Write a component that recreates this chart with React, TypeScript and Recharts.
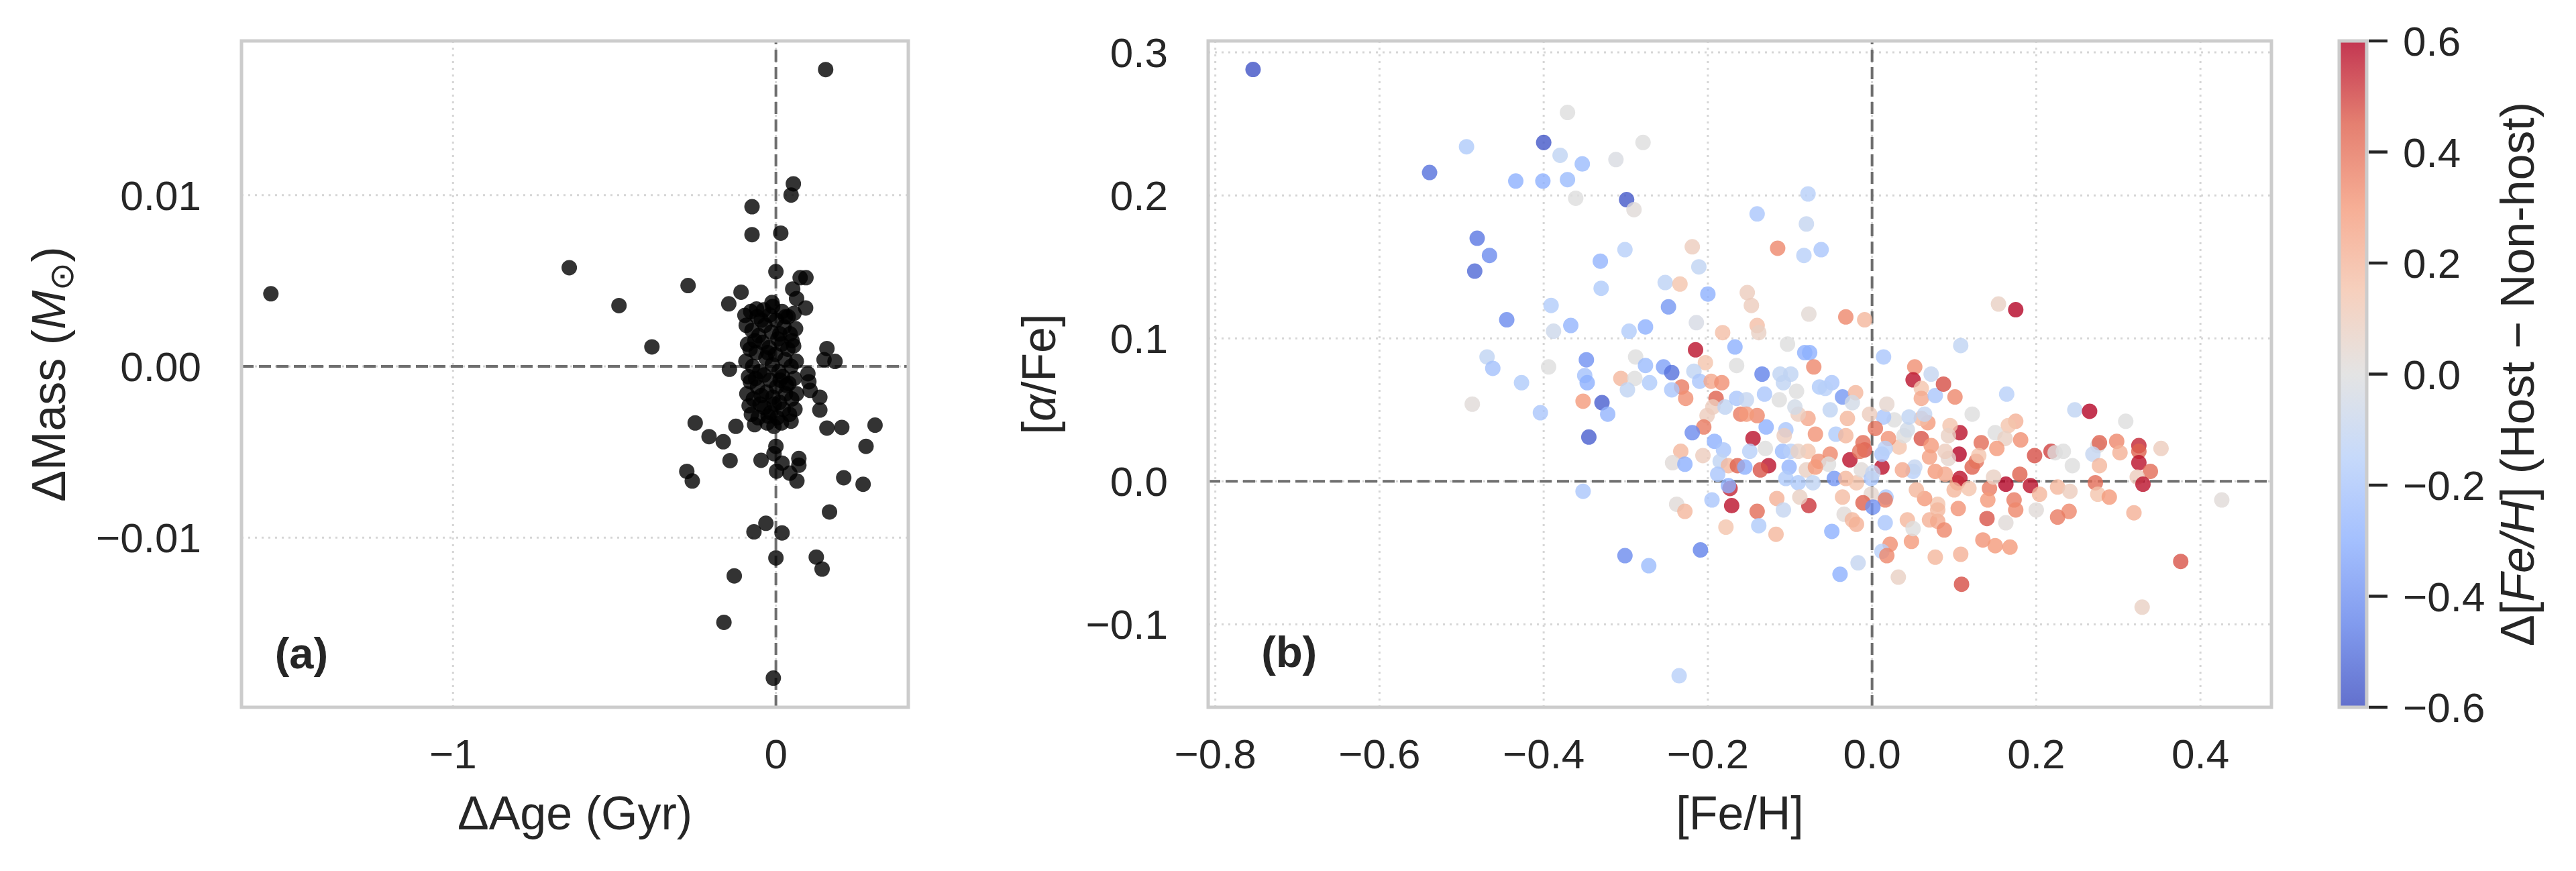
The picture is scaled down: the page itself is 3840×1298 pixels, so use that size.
import { ScatterChart, Scatter, XAxis, YAxis, CartesianGrid, ReferenceLine } from 'recharts';

const FONT = '"Liberation Sans", Arial, Helvetica, sans-serif';
const INK = '#262626';

// ---- panel (a): ΔAge (Gyr) vs ΔMass (Msun) ----
const ageMassCluster: [number, number][] = [
  [-0.092, 0.0024], [-0.088, 0.0013], [-0.093, 0.0003], [-0.085, -0.0006], [-0.09, -0.0016],
  [-0.078, 0.0032], [-0.074, 0.0021], [-0.08, 0.001], [-0.072, 0.0], [-0.079, -0.0009], [-0.07, -0.0019], [-0.076, -0.0028], [-0.066, -0.0034],
  [-0.058, 0.0029], [-0.053, 0.0018], [-0.061, 0.0008], [-0.05, -0.0003], [-0.057, -0.0012], [-0.049, -0.0022], [-0.055, -0.003],
  [-0.038, 0.0033], [-0.034, 0.0024], [-0.041, 0.0014], [-0.031, 0.0005], [-0.037, -0.0005], [-0.029, -0.0015], [-0.036, -0.0024], [-0.027, -0.0033],
  [-0.019, 0.003], [-0.014, 0.002], [-0.021, 0.0011], [-0.011, 0.0001], [-0.018, -0.0008], [-0.009, -0.0018], [-0.016, -0.0027], [-0.006, -0.0035],
  [0.001, 0.0027], [0.006, 0.0016], [-0.001, 0.0007], [0.009, -0.0003], [0.002, -0.0012], [0.011, -0.0021], [0.004, -0.003],
  [0.019, 0.0032], [0.025, 0.0023], [0.018, 0.0013], [0.028, 0.0004], [0.021, -0.0006], [0.03, -0.0016], [0.023, -0.0025], [0.017, -0.0033],
  [0.038, 0.0029], [0.044, 0.0019], [0.037, 0.001], [0.047, 0.0], [0.04, -0.001], [0.049, -0.0019], [0.042, -0.0028],
  [0.056, 0.0031], [0.061, 0.0022], [0.055, 0.0012], [0.063, 0.0003], [0.057, -0.0007], [0.064, -0.0016], [0.059, -0.0025],
  [-0.065, 0.0015], [-0.045, -0.0017], [-0.025, 0.0008], [-0.005, -0.0022], [0.012, 0.0019], [0.032, -0.0011], [0.05, 0.0015],
  [-0.083, -0.0023], [-0.01, 0.0035], [0.03, 0.0029], [-0.045, 0.0027], [0.013, -0.0008], [-0.063, -0.0007], [0.047, -0.0032], [-0.024, -0.0029],
];

const ageMassSpread: [number, number][] = [
  [-1.564, 0.00424], [-0.64, 0.00576], [-0.486, 0.00355], [-0.384, 0.00114], [-0.272, 0.00472], [0.154, 0.01733],
  [-0.25, -0.0033], [-0.207, -0.0041], [-0.163, -0.0044], [-0.276, -0.00613], [-0.259, -0.00669], [-0.142, -0.0055],
  [-0.124, -0.0035], [-0.144, -0.00017], [-0.108, 0.00433], [-0.146, 0.00365], [-0.074, 0.00932], [-0.074, 0.00769],
  [0.015, 0.00778], [0.0, 0.00553], [0.054, 0.01066], [0.047, 0.01], [0.075, 0.00518], [0.093, 0.00518], [0.052, 0.00452],
  [0.092, 0.00341], [0.158, 0.00104], [0.183, 0.00029], [0.149, 0.00039], [0.099, -0.00043], [0.102, -0.0009],
  [0.106, -0.0014], [0.136, -0.0018], [0.136, -0.00255], [0.158, -0.0036], [0.204, -0.00356], [0.307, -0.00343],
  [0.279, -0.00467], [0.21, -0.0065], [0.27, -0.00688], [0.166, -0.0085], [0.071, -0.00538], [0.071, -0.00577],
  [0.065, -0.00669], [0.043, -0.00623], [0.019, -0.00565], [0.002, -0.00612], [-0.046, -0.00548], [-0.068, -0.00966],
  [-0.031, -0.00916], [0.019, -0.00972], [0.0, -0.01118], [0.125, -0.01113], [0.143, -0.01183], [-0.129, -0.01223],
  [-0.161, -0.01494], [-0.008, -0.0182], [0.0, -0.00467], [-0.006, -0.0051], [0.064, 0.00396], [-0.012, 0.00373],
  [-0.06, 0.00335], [-0.096, 0.00298],
];

const ageTicks = [-1, 0];
const massTicks = [-0.01, 0, 0.01];

// ---- panel (b): [Fe/H] vs [α/Fe], coloured by Δ[Fe/H] (host − non-host) ----
const fehAlphaStars: [number, number, number][] = [
  [-0.754, 0.288, -0.58], [-0.371, 0.258, 0.0], [-0.494, 0.234, -0.18], [-0.4, 0.237, -0.57], [-0.279, 0.237, 0.0],
  [-0.38, 0.228, -0.12], [-0.353, 0.222, -0.25], [-0.312, 0.225, -0.02], [-0.539, 0.216, -0.5], [-0.434, 0.21, -0.3],
  [-0.401, 0.21, -0.3], [-0.371, 0.211, -0.25], [-0.361, 0.198, 0.0], [-0.299, 0.197, -0.57], [-0.29, 0.19, 0.02],
  [-0.481, 0.17, -0.48], [-0.466, 0.158, -0.42], [-0.484, 0.147, -0.52], [-0.219, 0.164, 0.1], [-0.211, 0.15, -0.12],
  [-0.301, 0.162, -0.15], [-0.331, 0.154, -0.28], [-0.33, 0.135, -0.18], [-0.252, 0.139, -0.13], [-0.234, 0.138, 0.15],
  [-0.2, 0.131, -0.3], [-0.248, 0.122, -0.38], [-0.391, 0.123, -0.17], [-0.445, 0.113, -0.42], [-0.388, 0.105, -0.07],
  [-0.367, 0.109, -0.28], [-0.296, 0.105, -0.17], [-0.276, 0.108, -0.3], [-0.214, 0.111, -0.03], [-0.182, 0.104, 0.17],
  [-0.167, 0.094, -0.3], [-0.215, 0.092, 0.58], [-0.203, 0.083, 0.15], [-0.165, 0.081, 0.0], [-0.469, 0.087, -0.12],
  [-0.462, 0.079, -0.22], [-0.394, 0.08, 0.0], [-0.348, 0.085, -0.4], [-0.288, 0.087, 0.0], [-0.276, 0.081, -0.25],
  [-0.254, 0.08, -0.35], [-0.244, 0.076, -0.5], [-0.217, 0.077, -0.12],
  [-0.078, 0.201, -0.15], [-0.14, 0.187, -0.2], [-0.08, 0.18, -0.1], [-0.115, 0.163, 0.35], [-0.083, 0.158, -0.15],
  [-0.062, 0.162, -0.2], [-0.152, 0.132, 0.1], [-0.147, 0.123, 0.1], [-0.077, 0.117, 0.03], [-0.032, 0.115, 0.35],
  [-0.009, 0.113, 0.2], [-0.14, 0.109, 0.17], [-0.138, 0.104, 0.08], [0.154, 0.124, 0.08], [0.175, 0.12, 0.6],
  [0.108, 0.095, -0.12], [-0.103, 0.096, 0.0], [-0.082, 0.09, -0.3], [-0.076, 0.09, -0.3], [0.014, 0.087, -0.2],
  [-0.071, 0.08, 0.35], [0.052, 0.08, 0.33], [-0.134, 0.075, -0.45], [-0.112, 0.075, -0.12], [-0.099, 0.075, -0.12],
  [0.072, 0.075, -0.1],
  [-0.427, 0.069, -0.18], [-0.487, 0.054, 0.02], [-0.404, 0.048, -0.2], [-0.352, 0.056, 0.3], [-0.329, 0.055, -0.55],
  [-0.322, 0.047, -0.28], [-0.35, 0.074, -0.22], [-0.347, 0.069, -0.3], [-0.345, 0.031, -0.55], [-0.306, 0.072, 0.2],
  [-0.289, 0.072, 0.0], [-0.298, 0.064, -0.12], [-0.271, 0.069, -0.18], [-0.21, 0.07, -0.2], [-0.196, 0.07, 0.25],
  [-0.183, 0.069, 0.33], [-0.232, 0.066, 0.38], [-0.227, 0.058, 0.33], [-0.244, 0.064, -0.2], [-0.19, 0.058, 0.45],
  [-0.194, 0.052, 0.1], [-0.179, 0.052, -0.12], [-0.165, 0.058, -0.2], [-0.16, 0.047, 0.38], [-0.201, 0.046, 0.1],
  [-0.205, 0.038, 0.38], [-0.219, 0.034, -0.42], [-0.192, 0.028, -0.3], [-0.181, 0.022, -0.2], [-0.233, 0.021, 0.2],
  [-0.206, 0.018, 0.1], [-0.243, 0.013, 0.02], [-0.228, 0.012, -0.3], [-0.185, 0.014, -0.12], [-0.175, 0.011, 0.2],
  [-0.164, 0.011, 0.45], [-0.188, 0.005, -0.2], [-0.173, -0.005, 0.55], [-0.175, -0.003, -0.3], [-0.352, -0.007, -0.2],
  [-0.195, -0.013, -0.2], [-0.171, -0.017, 0.58], [-0.238, -0.016, 0.02], [-0.228, -0.021, 0.2], [-0.178, -0.032, 0.15],
  [-0.209, -0.048, -0.45], [-0.301, -0.052, -0.42], [-0.272, -0.059, -0.25], [-0.235, -0.136, -0.15],
  [-0.108, 0.069, -0.12], [-0.092, 0.063, 0.0], [-0.131, 0.061, -0.2], [-0.153, 0.057, -0.1], [-0.113, 0.057, 0.0],
  [-0.064, 0.066, -0.18], [-0.049, 0.069, -0.2], [-0.036, 0.059, -0.38], [-0.02, 0.062, 0.2], [-0.024, 0.055, -0.05],
  [0.05, 0.071, 0.58], [0.06, 0.065, 0.15], [0.06, 0.058, 0.25], [0.077, 0.06, -0.2], [0.087, 0.068, 0.48],
  [0.101, 0.059, 0.35], [0.164, 0.061, -0.15], [0.122, 0.047, 0.0], [0.247, 0.05, -0.12], [0.265, 0.049, 0.6],
  [0.309, 0.042, 0.0], [0.175, 0.042, 0.22], [0.166, 0.039, 0.15], [0.15, 0.034, 0.0], [0.181, 0.029, 0.33],
  [0.162, 0.03, 0.08], [0.152, 0.023, 0.3], [0.133, 0.027, 0.42], [0.198, 0.018, 0.48], [0.218, 0.021, 0.5],
  [0.223, 0.02, 0.0], [0.233, 0.021, 0.0], [0.275, 0.025, 0.0], [0.277, 0.027, 0.45], [0.298, 0.028, 0.35],
  [0.302, 0.02, 0.22], [0.269, 0.019, -0.1], [0.325, 0.025, 0.55], [0.325, 0.021, 0.45], [0.352, 0.023, 0.1],
  [0.244, 0.011, 0.0], [0.277, 0.011, 0.2], [0.325, 0.013, 0.58], [0.339, 0.007, 0.42], [0.323, 0.003, 0.1],
  [0.33, -0.002, 0.58], [0.272, -0.001, 0.42], [0.226, -0.004, 0.2], [0.241, -0.007, 0.1], [0.275, -0.009, 0.15],
  [0.289, -0.011, 0.3], [0.426, -0.013, 0.02], [0.319, -0.022, 0.22], [0.376, -0.056, 0.47], [0.329, -0.088, 0.08],
  [0.24, -0.021, 0.35], [0.226, -0.025, 0.38], [0.2, -0.02, 0.02], [0.193, -0.003, 0.58], [0.204, -0.009, 0.2],
  [0.163, -0.002, 0.6], [0.18, 0.005, 0.45], [0.173, -0.013, 0.38], [0.175, -0.02, 0.35], [0.143, -0.005, 0.38],
  [0.141, -0.013, 0.3], [0.14, -0.026, 0.47], [0.163, -0.029, 0.02], [0.105, -0.019, 0.32], [0.135, -0.041, 0.32],
  [0.15, -0.045, 0.3], [0.168, -0.046, 0.3], [0.108, -0.051, 0.22], [0.077, -0.053, 0.2], [0.109, -0.072, 0.48],
  [0.032, -0.067, 0.08], [-0.039, -0.065, -0.3], [-0.017, -0.057, -0.1], [0.022, -0.044, 0.33], [0.012, -0.049, -0.15],
  [0.018, -0.052, 0.35], [0.048, -0.042, 0.3], [0.016, -0.029, -0.2], [0.043, -0.027, 0.2], [0.05, -0.033, 0.0],
  [0.07, -0.027, 0.22], [0.08, -0.028, 0.25], [0.088, -0.034, 0.35], [0.08, -0.016, 0.15], [0.08, -0.02, 0.2],
  [0.064, -0.012, 0.3], [0.054, -0.006, 0.2], [0.104, -0.001, 0.3], [0.107, 0.002, 0.58], [0.1, -0.006, 0.2],
  [0.118, -0.005, 0.15], [0.122, 0.01, 0.45], [0.127, 0.014, 0.4], [0.13, 0.018, 0.15], [0.106, 0.019, 0.6],
  [0.093, 0.016, 0.05], [0.089, 0.021, 0.1], [0.107, 0.034, 0.58], [0.095, 0.039, 0.15], [0.093, 0.032, 0.08],
  [0.068, 0.041, 0.3], [0.06, 0.044, 0.18], [0.06, 0.03, 0.47], [0.072, 0.025, 0.3], [0.07, 0.017, 0.28],
  [0.077, 0.007, 0.3], [0.089, 0.005, 0.25], [0.05, 0.007, -0.15], [0.052, 0.01, -0.1], [0.037, 0.008, 0.25],
  [0.033, 0.024, 0.15], [0.039, 0.032, 0.0], [0.043, 0.036, -0.05], [0.045, 0.045, -0.12], [0.064, 0.047, -0.1],
  [0.027, 0.043, 0.0], [0.014, 0.045, -0.2], [0.018, 0.054, 0.05], [0.02, 0.03, 0.32], [0.004, 0.037, 0.4],
  [0.012, 0.01, 0.58], [-0.003, 0.047, 0.1], [-0.009, 0.022, 0.47], [-0.011, 0.027, 0.42], [-0.027, 0.015, 0.58],
  [-0.03, 0.044, 0.2], [-0.051, 0.05, -0.12], [-0.057, 0.065, -0.15], [-0.044, 0.033, -0.18], [-0.032, 0.032, 0.2],
  [-0.069, 0.033, 0.32], [-0.078, 0.044, 0.25], [-0.09, 0.047, 0.1], [-0.094, 0.052, -0.05], [-0.129, 0.038, -0.3],
  [-0.105, 0.036, -0.2], [-0.107, 0.032, 0.1], [-0.145, 0.03, 0.58], [-0.14, 0.046, 0.35], [-0.153, 0.047, 0.3],
  [-0.13, 0.023, 0.0], [-0.149, 0.021, -0.15], [-0.109, 0.021, -0.25], [-0.099, 0.021, -0.15], [-0.078, 0.021, 0.15],
  [-0.09, 0.021, 0.08], [-0.051, 0.019, 0.35], [-0.065, 0.014, 0.33], [-0.053, 0.012, 0.0], [-0.126, 0.011, 0.58],
  [-0.136, 0.008, 0.47], [-0.101, 0.01, -0.28], [-0.155, 0.01, -0.3], [-0.08, 0.008, 0.08], [-0.069, 0.01, 0.3],
  [-0.105, 0.002, -0.18], [-0.09, -0.001, -0.18], [-0.072, -0.001, -0.12], [-0.046, 0.002, -0.38], [-0.032, 0.002, 0.2],
  [-0.019, -0.001, 0.15], [-0.013, 0.008, 0.02], [-0.001, 0.002, -0.2], [0.001, 0.006, -0.1], [0.012, 0.019, -0.2],
  [0.016, 0.023, -0.15], [-0.015, 0.021, 0.4], [-0.001, -0.009, 0.05], [-0.011, -0.015, 0.45], [0.017, -0.011, -0.2],
  [0.016, -0.013, 0.38], [0.001, -0.018, -0.4], [-0.036, -0.011, 0.18], [-0.034, -0.023, 0.02], [-0.024, -0.027, 0.2],
  [-0.019, -0.03, 0.22], [-0.077, -0.017, 0.52], [-0.088, -0.011, 0.08], [-0.116, -0.012, 0.22], [-0.14, -0.021, 0.42],
  [-0.108, -0.02, -0.1], [-0.138, -0.031, -0.18], [-0.117, -0.037, 0.2], [-0.049, -0.035, -0.3], [0.148, 0.003, 0.08],
];

const fehTicks = [-0.8, -0.6, -0.4, -0.2, 0, 0.2, 0.4];
const alphaTicks = [-0.1, 0, 0.1, 0.2, 0.3];
const colorTicks = [-0.6, -0.4, -0.2, 0, 0.2, 0.4, 0.6];
const COLOR_MIN = -0.6;
const COLOR_MAX = 0.6;

// matplotlib "coolwarm", sampled every 1/8
const COOLWARM: [number, number, number][] = [
  [59, 76, 192], [98, 130, 234], [141, 176, 254], [184, 208, 249], [221, 221, 221],
  [244, 196, 173], [244, 154, 123], [222, 96, 77], [180, 4, 38],
];

function coolwarm(v: number): string {
  const t = Math.min(1, Math.max(0, (v - COLOR_MIN) / (COLOR_MAX - COLOR_MIN))) * 8;
  const i = Math.min(7, Math.floor(t));
  const f = t - i;
  const a = COOLWARM[i];
  const b = COOLWARM[i + 1];
  const c = a.map((ch, k) => Math.round(ch + (b[k] - ch) * f));
  return `rgb(${c[0]},${c[1]},${c[2]})`;
}

const fmt = (digits: number) => (v: number) =>
  (v < 0 ? '\u2212' : '') + Math.abs(v).toFixed(digits);

// figure layout (px)
const W = 3840;
const H = 1298;
const TOP = 61;
const BOTTOM = 1054;
const A_LEFT = 360;
const A_RIGHT = 1354;
const A_WIDTH = 1400;
const B_X = 1400;
const B_WIDTH = 2050;
const B_LEFT = 1801;
const B_RIGHT = 3386;
const CB_LEFT = 3487;
const CB_WIDTH = 41;
const X_AXIS_H = 100;
const TICK_FONT = 62;
const LABEL_FONT = 70;
const DOT_R = 11.5;

const tickStyle = { fontSize: TICK_FONT, fill: INK, fontFamily: FONT };
const gridProps = { stroke: '#d6d6d6', strokeWidth: 3, strokeDasharray: '3 7' };
const zeroLine = { stroke: '#6e6e6e', strokeWidth: 4, strokeDasharray: '18 8' };

const panelAData = [...ageMassSpread, ...ageMassCluster].map(([x, y]) => ({ x, y }));
const panelBData = fehAlphaStars.map(([x, y, c]) => ({ x, y, c }));

function AgeMassPanel() {
  return (
    <ScatterChart
      width={A_WIDTH}
      height={H}
      margin={{ top: TOP, right: A_WIDTH - A_RIGHT, bottom: H - BOTTOM - X_AXIS_H, left: 0 }}
    >
      <CartesianGrid {...gridProps} />
      <XAxis
        type="number"
        dataKey="x"
        domain={[-1.655, 0.41]}
        ticks={ageTicks}
        interval={0}
        allowDataOverflow
        height={X_AXIS_H}
        tickFormatter={fmt(0)}
        tick={tickStyle}
        tickLine={false}
        axisLine={false}
        tickSize={0}
        tickMargin={47}
      />
      <YAxis
        type="number"
        dataKey="y"
        domain={[-0.0199, 0.019]}
        ticks={massTicks}
        interval={0}
        allowDataOverflow
        width={A_LEFT}
        tickFormatter={fmt(2)}
        tick={tickStyle}
        tickLine={false}
        axisLine={false}
        tickSize={0}
        tickMargin={60}
      />
      <Scatter
        data={panelAData}
        isAnimationActive={false}
        shape={(p: any) => <circle cx={p.cx} cy={p.cy} r={DOT_R} fill="#000" fillOpacity={0.8} />}
      />
      <ReferenceLine x={0} {...zeroLine} />
      <ReferenceLine y={0} {...zeroLine} />
    </ScatterChart>
  );
}

function FehAlphaPanel() {
  return (
    <ScatterChart
      width={B_WIDTH}
      height={H}
      margin={{ top: TOP, right: B_X + B_WIDTH - B_RIGHT, bottom: H - BOTTOM - X_AXIS_H, left: 0 }}
    >
      <CartesianGrid {...gridProps} />
      <XAxis
        type="number"
        dataKey="x"
        domain={[-0.8087, 0.4865]}
        ticks={fehTicks}
        interval={0}
        allowDataOverflow
        height={X_AXIS_H}
        tickFormatter={fmt(1)}
        tick={tickStyle}
        tickLine={false}
        axisLine={false}
        tickSize={0}
        tickMargin={47}
      />
      <YAxis
        type="number"
        dataKey="y"
        domain={[-0.158, 0.308]}
        ticks={alphaTicks}
        interval={0}
        allowDataOverflow
        width={B_LEFT - B_X}
        tickFormatter={fmt(1)}
        tick={tickStyle}
        tickLine={false}
        axisLine={false}
        tickSize={0}
        tickMargin={60}
      />
      <Scatter
        data={panelBData}
        isAnimationActive={false}
        shape={(p: any) => (
          <circle cx={p.cx} cy={p.cy} r={DOT_R} fill={coolwarm(p.payload.c)} fillOpacity={0.8} />
        )}
      />
      <ReferenceLine x={0} {...zeroLine} />
      <ReferenceLine y={0} {...zeroLine} />
    </ScatterChart>
  );
}

// frames, axis titles, panel tags and the colour bar
function Overlay() {
  const midY = (TOP + BOTTOM) / 2;
  const cbY = (v: number) => TOP + ((COLOR_MAX - v) / (COLOR_MAX - COLOR_MIN)) * (BOTTOM - TOP);
  const stops = Array.from({ length: 17 }, (_, i) => i / 16);
  return (
    <svg
      width={W}
      height={H}
      style={{ position: 'absolute', left: 0, top: 0, pointerEvents: 'none' }}
      fontFamily={FONT}
      fill={INK}
    >
      <defs>
        <linearGradient id="coolwarm" x1="0" y1="1" x2="0" y2="0">
          {stops.map((s) => (
            <stop
              key={s}
              offset={s}
              stopColor={coolwarm(COLOR_MIN + s * (COLOR_MAX - COLOR_MIN))}
              stopOpacity={0.8}
            />
          ))}
        </linearGradient>
      </defs>

      <rect x={A_LEFT} y={TOP} width={A_RIGHT - A_LEFT} height={BOTTOM - TOP} fill="none" stroke="#cccccc" strokeWidth={5} />
      <rect x={B_LEFT} y={TOP} width={B_RIGHT - B_LEFT} height={BOTTOM - TOP} fill="none" stroke="#cccccc" strokeWidth={5} />

      <text x={(A_LEFT + A_RIGHT) / 2} y={1236} textAnchor="middle" fontSize={LABEL_FONT}>
        ΔAge (Gyr)
      </text>
      <text x={(B_LEFT + B_RIGHT) / 2} y={1236} textAnchor="middle" fontSize={LABEL_FONT}>
        [Fe/H]
      </text>
      <text transform={`translate(97 ${midY}) rotate(-90)`} textAnchor="middle" fontSize={LABEL_FONT}>
        ΔMass (<tspan fontStyle="italic">M</tspan>
        <tspan dy={12} fontSize={50}>⊙</tspan>
        <tspan dy={-12}>)</tspan>
      </text>
      <text transform={`translate(1573 ${midY}) rotate(-90)`} textAnchor="middle" fontSize={LABEL_FONT}>
        [<tspan fontStyle="italic">α</tspan>/Fe]
      </text>

      <text x={A_LEFT + 0.05 * (A_RIGHT - A_LEFT)} y={996} fontSize={65} fontWeight="bold">
        (a)
      </text>
      <text x={B_LEFT + 0.05 * (B_RIGHT - B_LEFT)} y={994} fontSize={65} fontWeight="bold">
        (b)
      </text>

      <rect x={CB_LEFT} y={TOP} width={CB_WIDTH} height={BOTTOM - TOP} fill="url(#coolwarm)" />
      <rect x={CB_LEFT} y={TOP} width={CB_WIDTH} height={BOTTOM - TOP} fill="none" stroke="#cccccc" strokeWidth={5} />
      {colorTicks.map((v) => (
        <g key={v}>
          <line x1={CB_LEFT + CB_WIDTH + 3} x2={CB_LEFT + CB_WIDTH + 31} y1={cbY(v)} y2={cbY(v)} stroke={INK} strokeWidth={4.5} />
          <text x={3582} y={cbY(v)} dy="0.355em" fontSize={TICK_FONT}>
            {fmt(1)(v)}
          </text>
        </g>
      ))}
      <text transform={`translate(3777 ${midY}) rotate(-90)`} textAnchor="middle" fontSize={LABEL_FONT}>
        Δ[<tspan fontStyle="italic">Fe/H</tspan>] (Host − Non-host)
      </text>
    </svg>
  );
}

export default function App() {
  return (
    <div style={{ position: 'absolute', left: 0, top: 0, width: W, height: H, background: '#fff', overflow: 'hidden' }}>
      <div style={{ position: 'absolute', left: 0, top: 0 }}>
        <AgeMassPanel />
      </div>
      <div style={{ position: 'absolute', left: B_X, top: 0 }}>
        <FehAlphaPanel />
      </div>
      <Overlay />
    </div>
  );
}
